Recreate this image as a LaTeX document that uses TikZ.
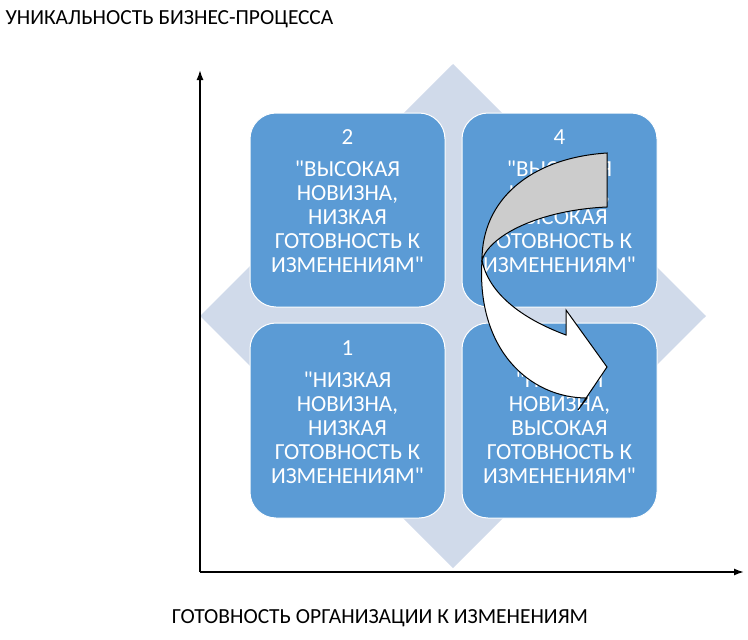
\documentclass[tikz,border=0pt]{standalone}
\usepackage{fontspec}
\setmainfont{Carlito}
\usetikzlibrary{arrows.meta}
\definecolor{boxblue}{HTML}{5B9BD5}
\definecolor{diam}{HTML}{D0DAEA}
\begin{document}
\begin{tikzpicture}[x=1pt,y=-1pt,
  quad/.style={fill=boxblue,draw=white,line width=1pt,rounded corners=26pt},
  qtext/.style={text=white,align=center,font=\fontsize{23}{24}\selectfont,anchor=north},
  axis/.style={line width=1.6pt,-{Latex[length=10pt,width=7pt]}},
  ttl/.style={font=\fontsize{21.5}{24}\selectfont}]
\useasboundingbox (0,0) rectangle (748,640);
\fill[diam] (453,64) -- (706,316) -- (453,568) -- (200,316) -- cycle;
\draw[quad] (250,113) rectangle (445,307);
\draw[quad] (462,113) rectangle (657,307);
\draw[quad] (250,323) rectangle (445,518);
\draw[quad] (462,323) rectangle (657,518);
\node[qtext] (t2) at (347.5,126) {2\\[8pt]\textquotedbl ВЫСОКАЯ\\НОВИЗНА,\\НИЗКАЯ\\ГОТОВНОСТЬ К\\ИЗМЕНЕНИЯМ\textquotedbl};
\node[qtext] (t4) at (559.5,126) {4\\[8pt]\textquotedbl ВЫСОКАЯ\\НОВИЗНА,\\ВЫСОКАЯ\\ГОТОВНОСТЬ К\\ИЗМЕНЕНИЯМ\textquotedbl};
\node[qtext] (t1) at (347.5,337) {1\\[8pt]\textquotedbl НИЗКАЯ\\НОВИЗНА,\\НИЗКАЯ\\ГОТОВНОСТЬ К\\ИЗМЕНЕНИЯМ\textquotedbl};
\node[qtext] (t3) at (559.5,337) {3\\[8pt]\textquotedbl НИЗКАЯ\\НОВИЗНА,\\ВЫСОКАЯ\\ГОТОВНОСТЬ К\\ИЗМЕНЕНИЯМ\textquotedbl};
\draw[fill=white,line width=1pt,line join=miter] (482,260) .. controls (476,350) and (530,398) .. (587,398) -- (578,410) -- (607,367) -- (566,310) -- (566,335) .. controls (520,318) and (488,292) .. (482,260) -- cycle;
\draw[fill=black!20,line width=1pt] (607,153) .. controls (530,158) and (482,200) .. (482,260) .. controls (490,235) and (540,210) .. (607,207) -- cycle;
\coordinate (o) at (200,572);
\coordinate (ytop) at (200,70);
\coordinate (xend) at (744,572);
\draw[axis] (o) -- (ytop);
\draw[axis] (o) -- (xend);
\node[ttl,anchor=west] (ylab) at (2,19) {УНИКАЛЬНОСТЬ БИЗНЕС-ПРОЦЕССА};
\node[ttl] (xlab) at (380,618) {ГОТОВНОСТЬ ОРГАНИЗАЦИИ К ИЗМЕНЕНИЯМ};
\end{tikzpicture}
\end{document}
